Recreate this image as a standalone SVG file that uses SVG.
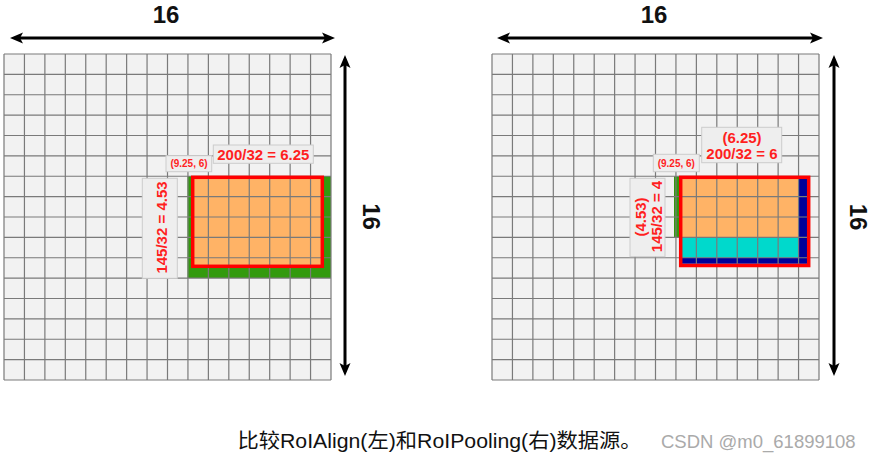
<svg xmlns="http://www.w3.org/2000/svg" xmlns:xlink="http://www.w3.org/1999/xlink" width="875" height="460" viewBox="0 0 875 460">
<style>
.bg{fill:#f2f2f2}
.gl{fill:none;stroke:#7a7a7a;stroke-width:1.2}
.roi{fill:none;stroke:#ff0000;stroke-width:3.5}
.box{fill:#eeeeee;stroke:#cccccc;stroke-width:1}
.lbl{font-family:"Liberation Sans",Arial,sans-serif;font-weight:bold;fill:#ff1f1f;text-anchor:middle}
.dim{font-family:"Liberation Sans",Arial,sans-serif;font-weight:bold;font-size:24px;fill:#111;text-anchor:middle}
.arr{stroke:#000;stroke-width:3;fill:none;marker-start:url(#ah);marker-end:url(#ah)}
</style>
<defs>
<marker id="ah" markerUnits="userSpaceOnUse" markerWidth="14" markerHeight="12" refX="3" refY="6" orient="auto-start-reverse" viewBox="0 0 14 12">
<path d="M0,0.5 L13,6 L0,11.5 L3,6 Z" fill="#000"/>
</marker>
<path id="lines" class="gl" d="M4,54V380M24.44,54V380M44.88,54V380M65.31,54V380M85.75,54V380M106.19,54V380M126.63,54V380M147.06,54V380M167.5,54V380M187.94,54V380M208.38,54V380M228.81,54V380M249.25,54V380M269.69,54V380M290.13,54V380M310.56,54V380M331,54V380M4,54H331M4,74.38H331M4,94.75H331M4,115.13H331M4,135.5H331M4,155.88H331M4,176.25H331M4,196.63H331M4,217H331M4,237.38H331M4,257.75H331M4,278.13H331M4,298.5H331M4,318.88H331M4,339.25H331M4,359.63H331M4,380H331"/>
</defs>
<rect width="875" height="460" fill="#ffffff"/>

<g id="left-grid">
<rect class="bg" x="4" y="54" width="327" height="326"/>
<rect x="187.5" y="176" width="143.5" height="102" fill="#339a0e"/>
<rect x="192.7" y="177.3" width="129.6" height="89" fill="#ffb366"/>
<use xlink:href="#lines"/>
<rect class="roi" x="192.7" y="177.3" width="129.6" height="89"/>
</g>

<g id="left-labels">
<g id="left-origin">
<rect class="box" x="166" y="155.7" width="45.7" height="16"/>
<text class="lbl" x="189" y="167.3" font-size="10">(9.25, 6)</text>
</g>
<g id="left-width">
<rect class="box" x="213.3" y="145" width="100" height="18.3"/>
<text class="lbl" x="263.3" y="160" font-size="15">200/32 = 6.25</text>
</g>
<g id="left-height">
<rect class="box" x="142.3" y="178.3" width="35" height="100"/>
<text class="lbl" font-size="15" transform="translate(166.5,227.5) rotate(-90)">145/32 = 4.53</text>
</g>
</g>

<g id="right-grid">
<rect class="bg" x="492" y="54" width="327" height="326"/>
<rect x="674" y="176.25" width="5" height="61" fill="#339a0e"/>
<rect x="679" y="176.25" width="119.6" height="61.1" fill="#ffb366"/>
<rect x="679" y="237.38" width="119.6" height="20.4" fill="#00d9cc"/>
<rect x="798.56" y="176.25" width="11" height="87" fill="#000099"/>
<rect x="679" y="257.75" width="131" height="6" fill="#000099"/>
<use xlink:href="#lines" transform="translate(488,0)"/>
<rect class="roi" x="680.7" y="177.3" width="128" height="88.2"/>
</g>

<g id="right-labels">
<g id="right-origin">
<rect class="box" x="653.3" y="154.3" width="46" height="17.4"/>
<text class="lbl" x="676.3" y="167" font-size="10">(9.25, 6)</text>
</g>
<g id="right-width">
<rect class="box" x="701.7" y="127.3" width="80" height="35.4"/>
<text class="lbl" x="742" y="143" font-size="15">(6.25)</text>
<text class="lbl" x="742" y="159" font-size="15">200/32 = 6</text>
</g>
<g id="right-height">
<rect class="box" x="630" y="178.3" width="35" height="78.4"/>
<text class="lbl" font-size="15" transform="translate(645.5,217) rotate(-90)">(4.53)</text>
<text class="lbl" font-size="15" transform="translate(662,216.5) rotate(-90)">145/32 = 4</text>
</g>
</g>

<g id="connectors">
<line class="arr" x1="20" y1="38" x2="325" y2="38"/>
<line class="arr" x1="345" y1="65" x2="345" y2="366"/>
<line class="arr" x1="507" y1="38" x2="813" y2="38"/>
<line class="arr" x1="834" y1="65" x2="834" y2="366"/>
</g>

<g id="dimension-labels">
<text class="dim" x="166" y="23">16</text>
<text class="dim" x="654" y="23">16</text>
<text class="dim" transform="translate(363,216.5) rotate(90)">16</text>
<text class="dim" transform="translate(850,217) rotate(90)">16</text>
</g>

<g id="caption">
<text x="237.5" y="448" font-family="'Liberation Sans','Noto Sans CJK SC',sans-serif" font-size="20" fill="#111" textLength="404" lengthAdjust="spacingAndGlyphs">比较RoIAlign(左)和RoIPooling(右)数据源。</text>
<text x="661" y="447.5" font-family="'Liberation Sans',Arial,sans-serif" font-size="18.5" fill="#aaaaaa">CSDN @m0_61899108</text>
</g>
</svg>
